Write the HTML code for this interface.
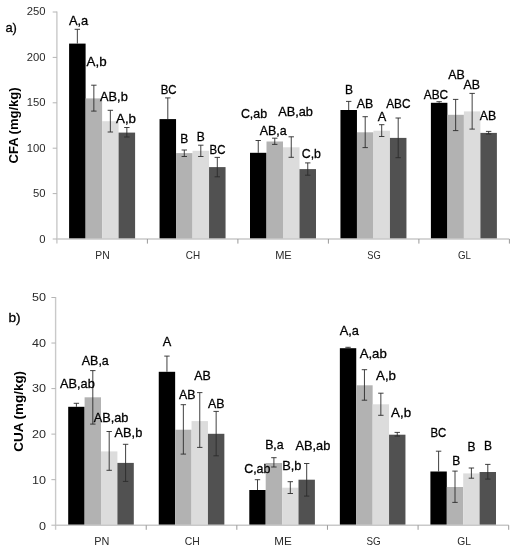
<!DOCTYPE html>
<html lang="en"><head><meta charset="utf-8"><title>CFA and CUA bar charts</title>
<style>html,body{margin:0;padding:0;background:#fff}body{width:516px;height:550px;overflow:hidden}svg{display:block}text{font-family:"Liberation Sans",sans-serif}</style></head><body>
<svg width="516" height="550" viewBox="0 0 516 550">
<rect width="516" height="550" fill="#fff"/>
<g>
<rect x="69.1" y="43.6" width="16.5" height="195.4" fill="#000000"/>
<rect x="85.6" y="98.4" width="16.5" height="140.6" fill="#b2b2b2"/>
<rect x="102.1" y="121.2" width="16.5" height="117.8" fill="#dcdcdc"/>
<rect x="118.6" y="132.6" width="16.5" height="106.4" fill="#515151"/>
<rect x="159.55" y="119.1" width="16.5" height="119.9" fill="#000000"/>
<rect x="176.05" y="153.1" width="16.5" height="85.9" fill="#b2b2b2"/>
<rect x="192.55" y="150.8" width="16.5" height="88.2" fill="#dcdcdc"/>
<rect x="209.05" y="167.1" width="16.5" height="71.9" fill="#515151"/>
<rect x="250" y="152.8" width="16.5" height="86.2" fill="#000000"/>
<rect x="266.5" y="141.5" width="16.5" height="97.5" fill="#b2b2b2"/>
<rect x="283" y="147.3" width="16.5" height="91.7" fill="#dcdcdc"/>
<rect x="299.5" y="169.1" width="16.5" height="69.9" fill="#515151"/>
<rect x="340.45" y="110" width="16.5" height="129" fill="#000000"/>
<rect x="356.95" y="132.3" width="16.5" height="106.7" fill="#b2b2b2"/>
<rect x="373.45" y="130.7" width="16.5" height="108.3" fill="#dcdcdc"/>
<rect x="389.95" y="137.9" width="16.5" height="101.1" fill="#515151"/>
<rect x="430.9" y="102.8" width="16.5" height="136.2" fill="#000000"/>
<rect x="447.4" y="114.8" width="16.5" height="124.2" fill="#b2b2b2"/>
<rect x="463.9" y="111.4" width="16.5" height="127.6" fill="#dcdcdc"/>
<rect x="480.4" y="132.9" width="16.5" height="106.1" fill="#515151"/>
<g stroke="#c9c9c9" stroke-width="1.4" fill="none">
<line x1="56.9" y1="11.5" x2="56.9" y2="243.6"/>
<line x1="56.9" y1="239" x2="509.4" y2="239"/>
</g>
<g stroke="#9a9a9a" stroke-width="1" fill="none">
<line x1="52.7" y1="12" x2="56.9" y2="12" stroke="#b4b4b4"/>
<line x1="52.7" y1="57.4" x2="56.9" y2="57.4" stroke="#b4b4b4"/>
<line x1="52.7" y1="102.8" x2="56.9" y2="102.8" stroke="#b4b4b4"/>
<line x1="52.7" y1="148.2" x2="56.9" y2="148.2" stroke="#b4b4b4"/>
<line x1="52.7" y1="193.6" x2="56.9" y2="193.6" stroke="#b4b4b4"/>
<line x1="52.7" y1="239" x2="56.9" y2="239" stroke="#b4b4b4"/>
<line x1="147.4" y1="239" x2="147.4" y2="243.6"/>
<line x1="237.9" y1="239" x2="237.9" y2="243.6"/>
<line x1="328.4" y1="239" x2="328.4" y2="243.6"/>
<line x1="418.9" y1="239" x2="418.9" y2="243.6"/>
<line x1="509.4" y1="239" x2="509.4" y2="243.6"/>
</g>
<g stroke="#2b2b2b" stroke-width="0.9" fill="none">
<path d="M77.35 29.3V43.6M74.65 29.3H80.05"/>
<path d="M93.85 85.2V111.1M91.15 85.2H96.55M91.15 111.1H96.55"/>
<path d="M110.35 110.3V132M107.65 110.3H113.05M107.65 132H113.05"/>
<path d="M126.85 127.5V137M124.15 127.5H129.55M124.15 137H129.55"/>
<path d="M167.8 97.9V119.1M165.1 97.9H170.5"/>
<path d="M184.3 150V156.5M181.6 150H187M181.6 156.5H187"/>
<path d="M200.8 145.2V156.5M198.1 145.2H203.5M198.1 156.5H203.5"/>
<path d="M217.3 157.4V176.8M214.6 157.4H220M214.6 176.8H220"/>
<path d="M258.25 140.5V152.8M255.55 140.5H260.95"/>
<path d="M274.75 138.2V144.4M272.05 138.2H277.45M272.05 144.4H277.45"/>
<path d="M291.25 136.8V157.3M288.55 136.8H293.95M288.55 157.3H293.95"/>
<path d="M307.75 162.9V175.2M305.05 162.9H310.45M305.05 175.2H310.45"/>
<path d="M348.7 101.4V110M346 101.4H351.4"/>
<path d="M365.2 116.7V147.6M362.5 116.7H367.9M362.5 147.6H367.9"/>
<path d="M381.7 124.7V136.5M379 124.7H384.4M379 136.5H384.4"/>
<path d="M398.2 118V157.7M395.5 118H400.9M395.5 157.7H400.9"/>
<path d="M439.15 101.7V102.8M436.45 101.7H441.85"/>
<path d="M455.65 99.4V130.6M452.95 99.4H458.35M452.95 130.6H458.35"/>
<path d="M472.15 93.4V129.1M469.45 93.4H474.85M469.45 129.1H474.85"/>
<path d="M488.65 131.4V134M485.95 131.4H491.35M485.95 134H491.35"/>
</g>
<text x="45.6" y="15.35" font-size="11" fill="#2a2a2a" text-anchor="end" textLength="18.79" lengthAdjust="spacingAndGlyphs">250</text>
<text x="45.6" y="60.75" font-size="11" fill="#2a2a2a" text-anchor="end" textLength="18.79" lengthAdjust="spacingAndGlyphs">200</text>
<text x="45.6" y="106.15" font-size="11" fill="#2a2a2a" text-anchor="end" textLength="18.79" lengthAdjust="spacingAndGlyphs">150</text>
<text x="45.6" y="151.55" font-size="11" fill="#2a2a2a" text-anchor="end" textLength="18.79" lengthAdjust="spacingAndGlyphs">100</text>
<text x="45.6" y="196.95" font-size="11" fill="#2a2a2a" text-anchor="end" textLength="12.53" lengthAdjust="spacingAndGlyphs">50</text>
<text x="45.6" y="243.25" font-size="11" fill="#2a2a2a" text-anchor="end" textLength="6.26" lengthAdjust="spacingAndGlyphs">0</text>
<text x="102.45" y="258.9" font-size="11" fill="#2a2a2a" text-anchor="middle" textLength="14.36" lengthAdjust="spacingAndGlyphs">PN</text>
<text x="192.95" y="258.9" font-size="11" fill="#2a2a2a" text-anchor="middle" textLength="14.29" lengthAdjust="spacingAndGlyphs">CH</text>
<text x="283.45" y="258.9" font-size="11" fill="#2a2a2a" text-anchor="middle" textLength="16.6" lengthAdjust="spacingAndGlyphs">ME</text>
<text x="373.95" y="258.9" font-size="11" fill="#2a2a2a" text-anchor="middle" textLength="13.48" lengthAdjust="spacingAndGlyphs">SG</text>
<text x="464.45" y="258.9" font-size="11" fill="#2a2a2a" text-anchor="middle" textLength="12.99" lengthAdjust="spacingAndGlyphs">GL</text>
<text transform="translate(18 125.5) rotate(-90)" font-size="12.6" font-weight="bold" fill="#000" text-anchor="middle" textLength="75.9" lengthAdjust="spacingAndGlyphs">CFA (mg/kg)</text>
<text x="5.4" y="31.7" font-size="13.1" fill="#000" stroke="#000" stroke-width="0.3" textLength="11.5" lengthAdjust="spacingAndGlyphs">a)</text>
<text x="78.6" y="25.3" font-size="13.1" fill="#000" stroke="#000" stroke-width="0.3" text-anchor="middle" textLength="19.32" lengthAdjust="spacingAndGlyphs">A,a</text>
<text x="96.6" y="65.9" font-size="13.1" fill="#000" stroke="#000" stroke-width="0.3" text-anchor="middle" textLength="20" lengthAdjust="spacingAndGlyphs">A,b</text>
<text x="113.9" y="100.9" font-size="13.1" fill="#000" stroke="#000" stroke-width="0.3" text-anchor="middle" textLength="27.69" lengthAdjust="spacingAndGlyphs">AB,b</text>
<text x="126" y="123" font-size="13.1" fill="#000" stroke="#000" stroke-width="0.3" text-anchor="middle" textLength="20" lengthAdjust="spacingAndGlyphs">A,b</text>
<text x="168.6" y="93.5" font-size="13.1" fill="#000" stroke="#000" stroke-width="0.3" text-anchor="middle" textLength="15.83" lengthAdjust="spacingAndGlyphs">BC</text>
<text x="184.2" y="142.9" font-size="13.1" fill="#000" stroke="#000" stroke-width="0.3" text-anchor="middle" textLength="8" lengthAdjust="spacingAndGlyphs">B</text>
<text x="200.8" y="140.6" font-size="13.1" fill="#000" stroke="#000" stroke-width="0.3" text-anchor="middle" textLength="8" lengthAdjust="spacingAndGlyphs">B</text>
<text x="217.5" y="153.5" font-size="13.1" fill="#000" stroke="#000" stroke-width="0.3" text-anchor="middle" textLength="15.83" lengthAdjust="spacingAndGlyphs">BC</text>
<text x="254" y="117.6" font-size="13.1" fill="#000" stroke="#000" stroke-width="0.3" text-anchor="middle" textLength="26.21" lengthAdjust="spacingAndGlyphs">C,ab</text>
<text x="295.6" y="116.2" font-size="13.1" fill="#000" stroke="#000" stroke-width="0.3" text-anchor="middle" textLength="34.73" lengthAdjust="spacingAndGlyphs">AB,ab</text>
<text x="273.2" y="135.2" font-size="13.1" fill="#000" stroke="#000" stroke-width="0.3" text-anchor="middle" textLength="27.01" lengthAdjust="spacingAndGlyphs">AB,a</text>
<text x="311.4" y="157.6" font-size="13.1" fill="#000" stroke="#000" stroke-width="0.3" text-anchor="middle" textLength="19.16" lengthAdjust="spacingAndGlyphs">C,b</text>
<text x="349" y="93.9" font-size="13.1" fill="#000" stroke="#000" stroke-width="0.3" text-anchor="middle" textLength="8" lengthAdjust="spacingAndGlyphs">B</text>
<text x="364.9" y="107.9" font-size="13.1" fill="#000" stroke="#000" stroke-width="0.3" text-anchor="middle" textLength="16.5" lengthAdjust="spacingAndGlyphs">AB</text>
<text x="381.9" y="121" font-size="13.1" fill="#000" stroke="#000" stroke-width="0.3" text-anchor="middle" textLength="8.51" lengthAdjust="spacingAndGlyphs">A</text>
<text x="398.4" y="107.6" font-size="13.1" fill="#000" stroke="#000" stroke-width="0.3" text-anchor="middle" textLength="24.34" lengthAdjust="spacingAndGlyphs">ABC</text>
<text x="436" y="98.6" font-size="13.1" fill="#000" stroke="#000" stroke-width="0.3" text-anchor="middle" textLength="24.34" lengthAdjust="spacingAndGlyphs">ABC</text>
<text x="456.6" y="78.9" font-size="13.1" fill="#000" stroke="#000" stroke-width="0.3" text-anchor="middle" textLength="16.5" lengthAdjust="spacingAndGlyphs">AB</text>
<text x="471.8" y="88.9" font-size="13.1" fill="#000" stroke="#000" stroke-width="0.3" text-anchor="middle" textLength="16.5" lengthAdjust="spacingAndGlyphs">AB</text>
<text x="488.1" y="119.7" font-size="13.1" fill="#000" stroke="#000" stroke-width="0.3" text-anchor="middle" textLength="16.5" lengthAdjust="spacingAndGlyphs">AB</text>
</g>
<g>
<rect x="68.2" y="406.8" width="16.4" height="118.4" fill="#000000"/>
<rect x="84.6" y="397.3" width="16.4" height="127.9" fill="#b2b2b2"/>
<rect x="101" y="451.4" width="16.4" height="73.8" fill="#dcdcdc"/>
<rect x="117.4" y="462.9" width="16.4" height="62.3" fill="#515151"/>
<rect x="158.75" y="371.8" width="16.4" height="153.4" fill="#000000"/>
<rect x="175.15" y="429.7" width="16.4" height="95.5" fill="#b2b2b2"/>
<rect x="191.55" y="421.1" width="16.4" height="104.1" fill="#dcdcdc"/>
<rect x="207.95" y="433.8" width="16.4" height="91.4" fill="#515151"/>
<rect x="249.3" y="490" width="16.4" height="35.2" fill="#000000"/>
<rect x="265.7" y="463" width="16.4" height="62.2" fill="#b2b2b2"/>
<rect x="282.1" y="487.7" width="16.4" height="37.5" fill="#dcdcdc"/>
<rect x="298.5" y="479.7" width="16.4" height="45.5" fill="#515151"/>
<rect x="339.85" y="348.2" width="16.4" height="177" fill="#000000"/>
<rect x="356.25" y="385.3" width="16.4" height="139.9" fill="#b2b2b2"/>
<rect x="372.65" y="404.3" width="16.4" height="120.9" fill="#dcdcdc"/>
<rect x="389.05" y="434.7" width="16.4" height="90.5" fill="#515151"/>
<rect x="430.4" y="471.5" width="16.4" height="53.7" fill="#000000"/>
<rect x="446.8" y="487" width="16.4" height="38.2" fill="#b2b2b2"/>
<rect x="463.2" y="473.4" width="16.4" height="51.8" fill="#dcdcdc"/>
<rect x="479.6" y="472" width="16.4" height="53.2" fill="#515151"/>
<g stroke="#c9c9c9" stroke-width="1.4" fill="none">
<line x1="55.6" y1="297" x2="55.6" y2="529.8"/>
<line x1="55.6" y1="525.2" x2="508.7" y2="525.2"/>
</g>
<g stroke="#9a9a9a" stroke-width="1" fill="none">
<line x1="51.4" y1="297.5" x2="55.6" y2="297.5" stroke="#b4b4b4"/>
<line x1="51.4" y1="343.04" x2="55.6" y2="343.04" stroke="#b4b4b4"/>
<line x1="51.4" y1="388.58" x2="55.6" y2="388.58" stroke="#b4b4b4"/>
<line x1="51.4" y1="434.12" x2="55.6" y2="434.12" stroke="#b4b4b4"/>
<line x1="51.4" y1="479.66" x2="55.6" y2="479.66" stroke="#b4b4b4"/>
<line x1="51.4" y1="525.2" x2="55.6" y2="525.2" stroke="#b4b4b4"/>
<line x1="146.22" y1="525.2" x2="146.22" y2="529.8"/>
<line x1="236.84" y1="525.2" x2="236.84" y2="529.8"/>
<line x1="327.46" y1="525.2" x2="327.46" y2="529.8"/>
<line x1="418.08" y1="525.2" x2="418.08" y2="529.8"/>
<line x1="508.7" y1="525.2" x2="508.7" y2="529.8"/>
</g>
<g stroke="#2b2b2b" stroke-width="0.9" fill="none">
<path d="M76.4 403.3V406.8M73.7 403.3H79.1"/>
<path d="M92.8 370.6V424.1M90.1 370.6H95.5M90.1 424.1H95.5"/>
<path d="M109.2 431.5V470.3M106.5 431.5H111.9M106.5 470.3H111.9"/>
<path d="M125.6 444.3V481.4M122.9 444.3H128.3M122.9 481.4H128.3"/>
<path d="M166.95 356.1V371.8M164.25 356.1H169.65"/>
<path d="M183.35 404.7V454.1M180.65 404.7H186.05M180.65 454.1H186.05"/>
<path d="M199.75 392.6V447.4M197.05 392.6H202.45M197.05 447.4H202.45"/>
<path d="M216.15 411.4V455.8M213.45 411.4H218.85M213.45 455.8H218.85"/>
<path d="M257.5 479.7V490M254.8 479.7H260.2"/>
<path d="M273.9 457.7V467M271.2 457.7H276.6M271.2 467H276.6"/>
<path d="M290.3 481.7V493.5M287.6 481.7H293M287.6 493.5H293"/>
<path d="M306.7 463.5V496.1M304 463.5H309.4M304 496.1H309.4"/>
<path d="M348.05 347.3V348.2M345.35 347.3H350.75"/>
<path d="M364.45 369.7V400.2M361.75 369.7H367.15M361.75 400.2H367.15"/>
<path d="M380.85 393.2V415.3M378.15 393.2H383.55M378.15 415.3H383.55"/>
<path d="M397.25 432.4V436.1M394.55 432.4H399.95M394.55 436.1H399.95"/>
<path d="M438.6 451.2V471.5M435.9 451.2H441.3"/>
<path d="M455 471.1V502.4M452.3 471.1H457.7M452.3 502.4H457.7"/>
<path d="M471.4 468V478.2M468.7 468H474.1M468.7 478.2H474.1"/>
<path d="M487.8 464.4V479.1M485.1 464.4H490.5M485.1 479.1H490.5"/>
</g>
<text x="46.1" y="301.4" font-size="11.5" fill="#2a2a2a" text-anchor="end" textLength="13.99" lengthAdjust="spacingAndGlyphs">50</text>
<text x="46.1" y="346.94" font-size="11.5" fill="#2a2a2a" text-anchor="end" textLength="13.99" lengthAdjust="spacingAndGlyphs">40</text>
<text x="46.1" y="392.48" font-size="11.5" fill="#2a2a2a" text-anchor="end" textLength="13.99" lengthAdjust="spacingAndGlyphs">30</text>
<text x="46.1" y="438.02" font-size="11.5" fill="#2a2a2a" text-anchor="end" textLength="13.99" lengthAdjust="spacingAndGlyphs">20</text>
<text x="46.1" y="483.56" font-size="11.5" fill="#2a2a2a" text-anchor="end" textLength="13.99" lengthAdjust="spacingAndGlyphs">10</text>
<text x="46.1" y="529.6" font-size="11.5" fill="#2a2a2a" text-anchor="end" textLength="6.99" lengthAdjust="spacingAndGlyphs">0</text>
<text x="101.71" y="545.1" font-size="11.5" fill="#2a2a2a" text-anchor="middle" textLength="15.13" lengthAdjust="spacingAndGlyphs">PN</text>
<text x="192.33" y="545.1" font-size="11.5" fill="#2a2a2a" text-anchor="middle" textLength="15.05" lengthAdjust="spacingAndGlyphs">CH</text>
<text x="282.95" y="545.1" font-size="11.5" fill="#2a2a2a" text-anchor="middle" textLength="17.49" lengthAdjust="spacingAndGlyphs">ME</text>
<text x="373.57" y="545.1" font-size="11.5" fill="#2a2a2a" text-anchor="middle" textLength="14.2" lengthAdjust="spacingAndGlyphs">SG</text>
<text x="464.19" y="545.1" font-size="11.5" fill="#2a2a2a" text-anchor="middle" textLength="13.69" lengthAdjust="spacingAndGlyphs">GL</text>
<text transform="translate(23.4 411.35) rotate(-90)" font-size="12.6" font-weight="bold" fill="#000" text-anchor="middle" textLength="80.8" lengthAdjust="spacingAndGlyphs">CUA (mg/kg)</text>
<text x="8.5" y="321.7" font-size="13.1" fill="#000" stroke="#000" stroke-width="0.3" textLength="12.18" lengthAdjust="spacingAndGlyphs">b)</text>
<text x="95.3" y="364.6" font-size="13.1" fill="#000" stroke="#000" stroke-width="0.3" text-anchor="middle" textLength="27.01" lengthAdjust="spacingAndGlyphs">AB,a</text>
<text x="77.4" y="387.6" font-size="13.1" fill="#000" stroke="#000" stroke-width="0.3" text-anchor="middle" textLength="34.73" lengthAdjust="spacingAndGlyphs">AB,ab</text>
<text x="111.1" y="422" font-size="13.1" fill="#000" stroke="#000" stroke-width="0.3" text-anchor="middle" textLength="34.73" lengthAdjust="spacingAndGlyphs">AB,ab</text>
<text x="128.4" y="437.3" font-size="13.1" fill="#000" stroke="#000" stroke-width="0.3" text-anchor="middle" textLength="27.69" lengthAdjust="spacingAndGlyphs">AB,b</text>
<text x="166.9" y="346.4" font-size="13.1" fill="#000" stroke="#000" stroke-width="0.3" text-anchor="middle" textLength="8.51" lengthAdjust="spacingAndGlyphs">A</text>
<text x="187.2" y="399.3" font-size="13.1" fill="#000" stroke="#000" stroke-width="0.3" text-anchor="middle" textLength="16.5" lengthAdjust="spacingAndGlyphs">AB</text>
<text x="202.4" y="380.3" font-size="13.1" fill="#000" stroke="#000" stroke-width="0.3" text-anchor="middle" textLength="16.5" lengthAdjust="spacingAndGlyphs">AB</text>
<text x="216.3" y="407.6" font-size="13.1" fill="#000" stroke="#000" stroke-width="0.3" text-anchor="middle" textLength="16.5" lengthAdjust="spacingAndGlyphs">AB</text>
<text x="257.3" y="472.9" font-size="13.1" fill="#000" stroke="#000" stroke-width="0.3" text-anchor="middle" textLength="26.21" lengthAdjust="spacingAndGlyphs">C,ab</text>
<text x="274.4" y="448.5" font-size="13.1" fill="#000" stroke="#000" stroke-width="0.3" text-anchor="middle" textLength="18.5" lengthAdjust="spacingAndGlyphs">B,a</text>
<text x="291.8" y="469.7" font-size="13.1" fill="#000" stroke="#000" stroke-width="0.3" text-anchor="middle" textLength="19.19" lengthAdjust="spacingAndGlyphs">B,b</text>
<text x="312.9" y="450.3" font-size="13.1" fill="#000" stroke="#000" stroke-width="0.3" text-anchor="middle" textLength="34.73" lengthAdjust="spacingAndGlyphs">AB,ab</text>
<text x="349.3" y="335" font-size="13.1" fill="#000" stroke="#000" stroke-width="0.3" text-anchor="middle" textLength="19.32" lengthAdjust="spacingAndGlyphs">A,a</text>
<text x="373.2" y="357.6" font-size="13.1" fill="#000" stroke="#000" stroke-width="0.3" text-anchor="middle" textLength="27.05" lengthAdjust="spacingAndGlyphs">A,ab</text>
<text x="386" y="379.6" font-size="13.1" fill="#000" stroke="#000" stroke-width="0.3" text-anchor="middle" textLength="20" lengthAdjust="spacingAndGlyphs">A,b</text>
<text x="401.1" y="416.5" font-size="13.1" fill="#000" stroke="#000" stroke-width="0.3" text-anchor="middle" textLength="20" lengthAdjust="spacingAndGlyphs">A,b</text>
<text x="438.4" y="437.1" font-size="13.1" fill="#000" stroke="#000" stroke-width="0.3" text-anchor="middle" textLength="15.83" lengthAdjust="spacingAndGlyphs">BC</text>
<text x="456.2" y="465" font-size="13.1" fill="#000" stroke="#000" stroke-width="0.3" text-anchor="middle" textLength="8" lengthAdjust="spacingAndGlyphs">B</text>
<text x="471.5" y="451.4" font-size="13.1" fill="#000" stroke="#000" stroke-width="0.3" text-anchor="middle" textLength="8" lengthAdjust="spacingAndGlyphs">B</text>
<text x="488.1" y="450" font-size="13.1" fill="#000" stroke="#000" stroke-width="0.3" text-anchor="middle" textLength="8" lengthAdjust="spacingAndGlyphs">B</text>
</g>
</svg></body></html>
